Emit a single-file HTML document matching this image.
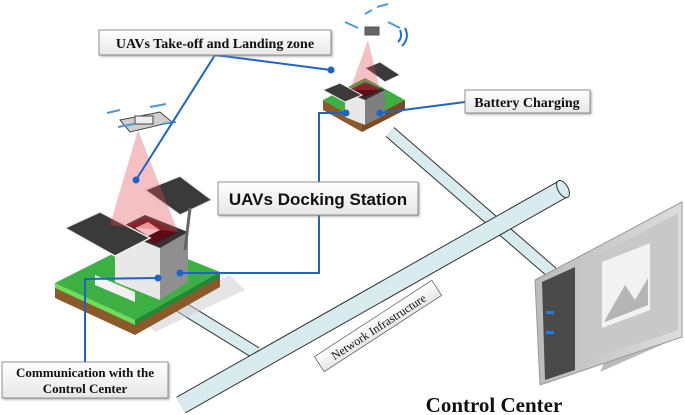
<!DOCTYPE html>
<html><head><meta charset="utf-8"><style>
html,body{margin:0;padding:0;background:#fff;}
svg{display:block;}
.sf{font-family:"Liberation Serif",serif;font-weight:bold;fill:#111;}
.ss{font-family:"Liberation Sans",sans-serif;font-weight:bold;fill:#111;}
</style></head><body>
<svg width="685" height="415" viewBox="0 0 685 415" xmlns="http://www.w3.org/2000/svg">
<defs>
<filter id="sh" x="-10%" y="-10%" width="130%" height="140%"><feDropShadow dx="1.5" dy="1.5" stdDeviation="1" flood-color="#888" flood-opacity="0.6"/></filter>
<linearGradient id="bx" x1="0" x2="0" y1="0" y2="1"><stop offset="0" stop-color="#fff"/><stop offset="1" stop-color="#e6e6e6"/></linearGradient>
<linearGradient id="mon" x1="0" x2="1"><stop offset="0" stop-color="#bbb"/><stop offset="1" stop-color="#ddd"/></linearGradient>
</defs>

<!-- pipes -->
<g stroke-linecap="butt">
<line x1="390" y1="132" x2="556" y2="276" stroke="#333" stroke-width="13"/>
<line x1="390" y1="132" x2="556" y2="276" stroke="#d8ecf0" stroke-width="11"/>
<line x1="178" y1="305" x2="256" y2="353" stroke="#333" stroke-width="13"/>
<line x1="178" y1="305" x2="256" y2="353" stroke="#d8ecf0" stroke-width="11"/>
<line x1="181" y1="405" x2="563" y2="189" stroke="#333" stroke-width="19"/>
<line x1="181" y1="405" x2="563" y2="189" stroke="#d8ecf0" stroke-width="17"/>
<ellipse cx="563" cy="189" rx="5" ry="9.5" transform="rotate(-30 563 189)" fill="#d8ecf0" stroke="#333"/>
</g>

<!-- network label -->
<g transform="translate(378,326) rotate(-33)">
<rect x="-70" y="-9" width="140" height="18" fill="url(#bx)" stroke="#666" stroke-width="0.8"/>
<text x="0" y="5" text-anchor="middle" font-family="Liberation Serif,serif" font-size="12" fill="#111">Network Infrastructure</text>
</g>

<!-- big station -->
<polygon points="140,318 230,275 245,290 155,332" fill="#ccc" opacity="0.5"/>
<polygon points="55,283 55,298 135,335 220,287 220,272 135,320" fill="#8a5a2b"/>
<polygon points="55,283 140,240 220,272 135,320" fill="#3cb043"/>
<polygon points="55,283 135,320 135,325 55,288" fill="#6fdc5a"/>
<polygon points="135,320 220,272 220,277 135,325" fill="#1f8a35"/>
<polygon points="95,275 135,292 135,302 95,285" fill="#f2f2f2"/>
<polygon points="115,230 160,248 160,300 115,282" fill="#e8e8e8"/>
<polygon points="160,248 188,232 188,282 160,300" fill="#8f8f8f"/>
<polygon points="115,230 145,215 188,232 160,248" fill="#333"/>
<polygon points="122,228 147,218 178,232 155,244" fill="#5a0d14"/>
<polygon points="135,228 148,222 160,230 148,236" fill="#f4c0c0"/>
<polygon points="65,228 100,212 150,238 115,256" fill="#3a3a3a" stroke="#eee" stroke-width="1.5"/>
<polygon points="145,190 180,176 212,200 180,215" fill="#3a3a3a" stroke="#eee" stroke-width="1.5"/>
<line x1="190" y1="208" x2="185" y2="250" stroke="#666" stroke-width="3"/>
<polygon points="138,130 110,225 178,232" fill="#e04b55" opacity="0.35"/>
<!-- big drone -->
<g stroke="#444" fill="#cfcfcf">
<polygon points="120,120 160,112 172,122 130,132" />
<rect x="135" y="116" width="18" height="8" fill="#eee"/>
</g>
<g stroke="#4a9ad8" stroke-width="2"><line x1="107" y1="113" x2="120" y2="110"/><line x1="118" y1="127" x2="134" y2="124"/><line x1="150" y1="107" x2="166" y2="104"/><line x1="162" y1="124" x2="176" y2="122"/></g>

<!-- small station -->
<polygon points="323,100 365,78 405,100 362,122" fill="#3cb043"/>
<polygon points="323,100 362,122 362,132 323,110" fill="#8a5a2b"/>
<polygon points="362,122 405,100 405,110 362,132" fill="#7a4a20"/>
<polygon points="345,92 365,100 365,125 345,117" fill="#e8e8e8"/>
<polygon points="365,100 385,90 385,115 365,125" fill="#7f7f7f"/>
<polygon points="345,92 365,82 385,90 365,100" fill="#333"/>
<polygon points="350,90 365,84 380,90 365,97" fill="#5a0d14"/>
<polygon points="323,90 340,83 362,95 345,102" fill="#3a3a3a" stroke="#eee"/>
<polygon points="365,68 380,62 400,75 385,82" fill="#3a3a3a" stroke="#eee"/>
<polygon points="368,40 350,90 380,90" fill="#e04b55" opacity="0.35"/>
<g stroke="#555" fill="#666"><rect x="365" y="27" width="14" height="8"/></g>
<g stroke="#4a9ad8" stroke-width="2"><line x1="345" y1="22" x2="358" y2="28"/><line x1="377" y1="7" x2="388" y2="4"/><line x1="388" y1="22" x2="400" y2="28"/><line x1="365" y1="14" x2="372" y2="10"/></g>
<g fill="none" stroke="#1e6fd9" stroke-width="2"><path d="M398 42 q5 -5 2 -12"/><path d="M402 46 q8 -8 3 -18"/></g>

<!-- monitor -->
<polygon points="610,350 660,330 668,342 600,372" fill="#bbb"/>
<polygon points="535,280 682,202 682,337 540,385" fill="url(#mon)" stroke="#999"/>
<polygon points="542,282 575,267 575,370 545,380" fill="#4a4a4a"/>
<polygon points="582,264 678,213 678,330 582,362" fill="#c8c8c8"/>
<polygon points="602,262 650,243 650,310 602,328" fill="#f2f2f2"/>
<polygon points="605,320 625,285 635,300 648,278 648,305 605,322" fill="#b5b5b5"/>
<rect x="546" y="311" width="8" height="3" fill="#1e7ee8"/><rect x="546" y="331" width="8" height="3" fill="#1e7ee8"/>

<!-- connectors -->
<g stroke="#1e64c8" stroke-width="2" fill="none">
<polyline points="136,180 215,55 331,70"/>
<polyline points="180,273 319,273 319,113 346,113"/>
<line x1="380" y1="113" x2="465" y2="102"/>
<polyline points="158,278 85,279 85,362"/>
</g>
<g fill="#1e64c8"><circle cx="136" cy="180" r="3.5"/><circle cx="331" cy="70" r="3.5"/><circle cx="180" cy="273" r="3.5"/><circle cx="346" cy="113" r="3.5"/><circle cx="380" cy="113" r="3.5"/><circle cx="158" cy="278" r="3.5"/></g>

<!-- labels -->
<g filter="url(#sh)" stroke="#777" stroke-width="0.8" fill="url(#bx)">
<rect x="99" y="30" width="232" height="25"/>
<rect x="218" y="182" width="200" height="33"/>
<rect x="465" y="90" width="125" height="23"/>
<rect x="2" y="362" width="166" height="36"/>
</g>
<text class="sf" x="215" y="48" font-size="14" text-anchor="middle">UAVs Take-off and Landing zone</text>
<text class="ss" x="318" y="205" font-size="17" text-anchor="middle">UAVs Docking Station</text>
<text class="sf" x="527" y="107" font-size="14" text-anchor="middle">Battery Charging</text>
<text class="sf" x="85" y="377" font-size="13" text-anchor="middle">Communication with the</text>
<text class="sf" x="85" y="393" font-size="13" text-anchor="middle">Control Center</text>
<text class="sf" x="494" y="412" font-size="21" text-anchor="middle">Control Center</text>
</svg>
</body></html>
